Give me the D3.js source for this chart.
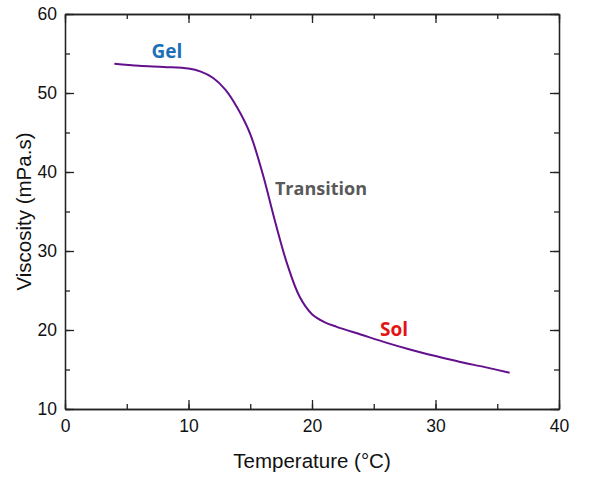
<!DOCTYPE html>
<html>
<head>
<meta charset="utf-8">
<script src="https://cdn.jsdelivr.net/npm/d3@7"></script>
<style>
	body { margin: 0; background: #fff; }
	text { font-family: "Liberation Sans", Arial, sans-serif; }
</style>
</head>
<body>
<div id="chart"></div>
<script>

// Temperature (C) and viscosity (mPa.s)
var temps = [4, 6, 8, 10, 11, 12, 13, 14, 15, 16, 17, 18, 19, 20, 21, 22, 24, 26, 28, 30, 32, 34, 36];
var viscosity = [53.7, 53.45, 53.3, 53.1, 52.7, 51.9, 50.4, 48.0, 44.8, 39.8, 33.8, 28.3, 24.2, 22.0, 21.0, 20.4, 19.4, 18.4, 17.5, 16.7, 15.95, 15.3, 14.6];

var xTicks = [0, 10, 20, 30, 40];
var yTicks = [10, 20, 30, 40, 50, 60];

var phaseLabels = [
	{ text: 'Gel', t: 7.0, v: 54.4, color: '#1b70b8', size: 19 },
	{ text: 'Transition', t: 17.0, v: 37.1, color: '#595959', size: 18 },
	{ text: 'Sol', t: 25.5, v: 19.3, color: '#e31414', size: 19 }
];

var width = 600, height = 489;
var margin = { top: 14, right: 41, bottom: 80, left: 65 };

var svg = d3.select('#chart').append('svg')
	.attr('width', width)
	.attr('height', height);

var x = d3.scaleLinear().domain([0, 40]).range([margin.left, width - margin.right]);
var y = d3.scaleLinear().domain([10, 60]).range([height - margin.bottom, margin.top]);

var minorX = d3.range(0, 41, 5), minorY = d3.range(10, 61, 5);

// Axes: ticks point inward, minor ticks at halves
function styleAxis(g) {
	g.selectAll('path').attr('stroke', '#222').attr('stroke-width', 1.3);
	g.selectAll('line').attr('stroke', '#222').attr('stroke-width', 1.3);
	g.selectAll('text').attr('font-size', 17.5).attr('fill', '#111');
}

function addAxis(axis, transform, withLabels) {
	var g = svg.append('g').attr('transform', transform);
	g.call(axis);
	if (!withLabels) g.selectAll('text').remove();
	styleAxis(g);
	return g;
}

var by = height - margin.bottom, rx = width - margin.right;

// minor ticks
addAxis(d3.axisBottom(x).tickValues(minorX).tickSize(-5).tickSizeOuter(0), 'translate(0,' + by + ')', false);
addAxis(d3.axisTop(x).tickValues(minorX).tickSize(-5).tickSizeOuter(0), 'translate(0,' + margin.top + ')', false);
addAxis(d3.axisLeft(y).tickValues(minorY).tickSize(-5).tickSizeOuter(0), 'translate(' + margin.left + ',0)', false);
addAxis(d3.axisRight(y).tickValues(minorY).tickSize(-5).tickSizeOuter(0), 'translate(' + rx + ',0)', false);

// major ticks
addAxis(d3.axisBottom(x).tickValues(xTicks).tickSize(-9).tickSizeOuter(0).tickPadding(11), 'translate(0,' + by + ')', true)
	.selectAll('text').attr('dy', '0.71em');
addAxis(d3.axisTop(x).tickValues(xTicks).tickSize(-9).tickSizeOuter(0), 'translate(0,' + margin.top + ')', false);
addAxis(d3.axisLeft(y).tickValues(yTicks).tickSize(-9).tickSizeOuter(0).tickPadding(8), 'translate(' + margin.left + ',0)', true);
addAxis(d3.axisRight(y).tickValues(yTicks).tickSize(-9).tickSizeOuter(0), 'translate(' + rx + ',0)', false);

// curve
var line = d3.line()
	.x(function(d, i) { return x(temps[i]); })
	.y(function(d) { return y(d); })
	.curve(d3.curveCatmullRom);

svg.append('path')
	.datum(viscosity)
	.attr('d', line)
	.attr('fill', 'none')
	.attr('stroke', '#63108c')
	.attr('stroke-width', 2);

// phase labels
svg.selectAll('.phase')
	.data(phaseLabels)
	.enter()
	.append('text')
	.attr('class', 'phase')
	.attr('x', function(d) { return x(d.t); })
	.attr('y', function(d) { return y(d.v); })
	.attr('fill', function(d) { return d.color; })
	.attr('font-size', function(d) { return d.size; })
	.attr('font-weight', 'bold')
	.style('font-family', '"Open Sans", sans-serif')
	.text(function(d) { return d.text; });

// axis titles
svg.append('text')
	.attr('x', x(20))
	.attr('y', 468)
	.attr('text-anchor', 'middle')
	.attr('font-size', 20.5)
	.attr('fill', '#111')
	.text('Temperature (\u00B0C)');

svg.append('text')
	.attr('transform', 'translate(31,' + y(35) + ') rotate(-90)')
	.attr('text-anchor', 'middle')
	.attr('font-size', 20.5)
	.attr('fill', '#111')
	.text('Viscosity (mPa.s)');

</script>
</body>
</html>
